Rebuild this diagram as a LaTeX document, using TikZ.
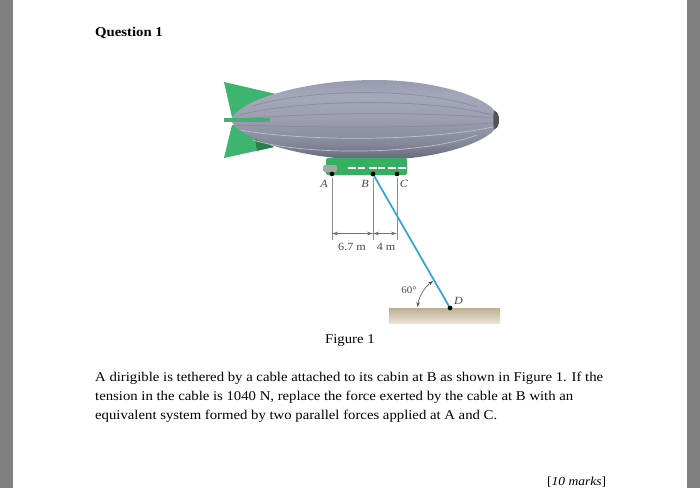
\documentclass[tikz,border=0pt]{standalone}
\usepackage{fontspec}
\setmainfont[FakeStretch=1.1]{Liberation Serif}
\usetikzlibrary{arrows.meta,shadings}
\definecolor{barg}{HTML}{808080}
\definecolor{fing}{HTML}{3DB56E}
\definecolor{cabg}{HTML}{35B060}
\definecolor{seamdark}{HTML}{8A8C9E}
\definecolor{seam}{HTML}{BFC1CC}
\definecolor{cable}{HTML}{2BA6D8}
\definecolor{dimg}{HTML}{8E8E8E}
\definecolor{lab}{HTML}{4A4A4A}
\pgfdeclareverticalshading{hull}{100bp}{
 rgb(0bp)=(0.40,0.42,0.48);
 rgb(26bp)=(0.40,0.42,0.48);
 rgb(35bp)=(0.52,0.53,0.60);
 rgb(50bp)=(0.61,0.62,0.69);
 rgb(65bp)=(0.65,0.66,0.73);
 rgb(74bp)=(0.60,0.61,0.69);
 rgb(100bp)=(0.60,0.61,0.69)}
\tikzset{x=1pt,y=-1pt,
 seamline/.style={line width=0.7pt},
 dimline/.style={dimg,line width=0.8pt},
 dimarrow/.style={dimg!80!black,line width=0.6pt,{Stealth[length=6pt,width=3.5pt]}-{Stealth[length=6pt,width=3.5pt]}},
 pin/.style={circle,fill=black,inner sep=0pt,minimum size=4.6pt},
 figlab/.style={font=\fontsize{11}{12}\selectfont\itshape,text=lab,inner sep=0pt},
 dimlab/.style={font=\fontsize{11}{12}\selectfont,text=lab,inner sep=0pt},
 bodytext/.style={font=\fontsize{13.4}{18}\selectfont,text=black,inner sep=0pt,anchor=base west},
}
\begin{document}
\begin{tikzpicture}
\useasboundingbox (0,0) rectangle (700,488);
\fill[white] (0,0) rectangle (700,488);
\fill[barg] (0,0) rectangle (13,488);
\fill[barg] (687,0) rectangle (700,488);
% fins
\fill[fing] (224,82) -- (276,94) -- (240,120) -- (232,117) -- cycle;
\fill[fing] (224,158) -- (274,147) -- (240,125) -- (232,125) -- cycle;
\fill[fing!70!black] (257,150.8) -- (274,147) -- (255,138) -- cycle;
% body
\shade[shading=hull]
 (231,120) .. controls (238,100) and (305,80) .. (375,80)
 .. controls (440,80) and (499,100) .. (499,120)
 .. controls (499,140) and (440,160) .. (375,160)
 .. controls (305,160) and (238,140) .. (231,120) -- cycle;
\draw[seamline,seamdark] (253,106) .. controls (300,91) and (410,85) .. (477,107);
\draw[seamline,seamdark] (240,115) .. controls (290,101) and (420,96) .. (493,115);
\draw[seamline,seamdark] (233,120) .. controls (290,113) and (420,111) .. (493,118);
\draw[seamline,seamdark] (237,125) .. controls (290,127) and (420,129) .. (493,123);
\draw[seamline,seam] (240,130) .. controls (300,141) and (420,142) .. (493,127);
\draw[seamline,seam] (253,140) .. controls (300,155) and (420,156) .. (477,135);
\fill[black!35!gray] (499,120) .. controls (499,114) and (497,111) .. (494,111) .. controls (493,116) and (493,124) .. (494,129) .. controls (497,129) and (499,126) .. (499,120) -- cycle;
\fill[fing!85!gray] (224,118) rectangle (270,122);
% cabin
\fill[cabg,rounded corners=1.5pt] (326,158) rectangle (407,175);
\fill[black!35!white,rounded corners=1.5pt] (323,165) rectangle (337,172);
\foreach \xa/\xb in {348/356,358/365,369/377,378/385,388/396,398/406}
  \fill[white] (\xa,167) rectangle (\xb,169.2);
% points
\node[pin] (A) at (332,174) {};
\node[pin] (B) at (373,174) {};
\node[pin] (C) at (397,174) {};
\node[pin] (D) at (450,308) {};
% dimension lines
\coordinate (At) at (332,178);
\coordinate (Bt) at (373,178);
\coordinate (Ct) at (397,178);
\coordinate (Ae) at (332,240);
\coordinate (Be) at (373,240);
\coordinate (Ce) at (397,240);
\draw[dimline] (At) -- (Ae);
\draw[dimline] (Bt) -- (Be);
\draw[dimline] (Ct) -- (Ce);
\coordinate (Am) at (332,233.5);
\coordinate (Bm) at (373,233.5);
\coordinate (Cm) at (397,233.5);
\draw[dimarrow] (Am) -- (Bm);
\draw[dimarrow] (Bm) -- (Cm);
% ground
\shade[top color={rgb,255:red,190;green,175;blue,145},bottom color={rgb,255:red,232;green,226;blue,212}] (389,308) rectangle (500,323);
% cable
\draw[cable,line width=1.7pt] (B) -- (D);
\node[pin] at (B) {};
\node[pin] at (D) {};
% angle
\draw[dimg!60!black,line width=0.6pt,{Stealth[length=5pt,width=3.5pt]}-{Stealth[length=5pt,width=3.5pt]}] (417.5,307) .. controls (419,296) and (425,287) .. (433,281);
% labels
\node[figlab] (la) at (324,183.5) {A};
\node[figlab] (lb) at (365,183.5) {B};
\node[figlab] (lc) at (404,183.5) {C};
\node[figlab] (ld) at (458.5,301) {D};
\node[dimlab] (d1) at (352,247) {6.7 m};
\node[dimlab] (d2) at (386,247) {4 m};
\node[dimlab,font=\fontsize{10}{11}\selectfont] (ang) at (409,290) {60°};
% text
\node[bodytext,font=\fontsize{13.4}{18}\selectfont\bfseries] (q) at (95,36) {Question 1};
\node[bodytext] (fig) at (325,343) {Figure 1};
\node[bodytext] (l1) at (95,381) {A dirigible is tethered by a cable attached to its cabin at B as shown in Figure 1. If the};
\node[bodytext] (l2) at (95,400) {tension in the cable is 1040 N, replace the force exerted by the cable at B with an};
\node[bodytext] (l3) at (95,419) {equivalent system formed by two parallel forces applied at A and C.};
\node[bodytext,font=\fontsize{12.3}{18}\selectfont] (m) at (547,485) {[\textit{10 marks}]};
\end{tikzpicture}
\end{document}
